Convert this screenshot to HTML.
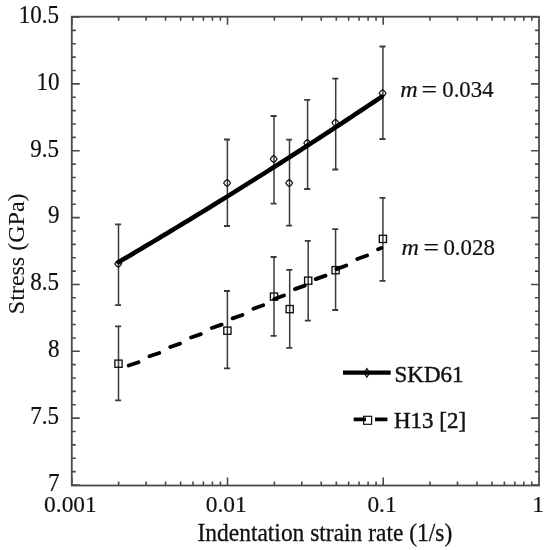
<!DOCTYPE html><html><head><meta charset="utf-8"><style>html,body{margin:0;padding:0;background:#fff;}svg{display:block;}text{font-family:"Liberation Serif","Times New Roman",serif;fill:#111;stroke:#111;}text{stroke-width:0.2px;}</style></head><body>
<svg width="547" height="550" viewBox="0 0 547 550">
<rect width="547" height="550" fill="#fff"/>
<path d="M71.80 485.5v-8M71.80 16.7v8M118.67 485.5v-4M118.67 16.7v4M146.09 485.5v-4M146.09 16.7v4M165.54 485.5v-4M165.54 16.7v4M180.63 485.5v-4M180.63 16.7v4M192.96 485.5v-4M192.96 16.7v4M203.38 485.5v-4M203.38 16.7v4M212.41 485.5v-4M212.41 16.7v4M220.38 485.5v-4M220.38 16.7v4M227.50 485.5v-8M227.50 16.7v8M274.37 485.5v-4M274.37 16.7v4M301.79 485.5v-4M301.79 16.7v4M321.24 485.5v-4M321.24 16.7v4M336.33 485.5v-4M336.33 16.7v4M348.66 485.5v-4M348.66 16.7v4M359.08 485.5v-4M359.08 16.7v4M368.11 485.5v-4M368.11 16.7v4M376.08 485.5v-4M376.08 16.7v4M383.20 485.5v-8M383.20 16.7v8M430.07 485.5v-4M430.07 16.7v4M457.49 485.5v-4M457.49 16.7v4M476.94 485.5v-4M476.94 16.7v4M492.03 485.5v-4M492.03 16.7v4M504.36 485.5v-4M504.36 16.7v4M514.78 485.5v-4M514.78 16.7v4M523.81 485.5v-4M523.81 16.7v4M531.78 485.5v-4M531.78 16.7v4M71.8 485.00h8M539 485.00h-8M71.8 471.63h4M539 471.63h-4M71.8 458.26h4M539 458.26h-4M71.8 444.89h4M539 444.89h-4M71.8 431.52h4M539 431.52h-4M71.8 418.15h8M539 418.15h-8M71.8 404.78h4M539 404.78h-4M71.8 391.41h4M539 391.41h-4M71.8 378.04h4M539 378.04h-4M71.8 364.67h4M539 364.67h-4M71.8 351.30h8M539 351.30h-8M71.8 337.93h4M539 337.93h-4M71.8 324.56h4M539 324.56h-4M71.8 311.19h4M539 311.19h-4M71.8 297.82h4M539 297.82h-4M71.8 284.45h8M539 284.45h-8M71.8 271.08h4M539 271.08h-4M71.8 257.71h4M539 257.71h-4M71.8 244.34h4M539 244.34h-4M71.8 230.97h4M539 230.97h-4M71.8 217.60h8M539 217.60h-8M71.8 204.23h4M539 204.23h-4M71.8 190.86h4M539 190.86h-4M71.8 177.49h4M539 177.49h-4M71.8 164.12h4M539 164.12h-4M71.8 150.75h8M539 150.75h-8M71.8 137.38h4M539 137.38h-4M71.8 124.01h4M539 124.01h-4M71.8 110.64h4M539 110.64h-4M71.8 97.27h4M539 97.27h-4M71.8 83.90h8M539 83.90h-8M71.8 70.53h4M539 70.53h-4M71.8 57.16h4M539 57.16h-4M71.8 43.79h4M539 43.79h-4M71.8 30.42h4M539 30.42h-4M71.8 17.05h8M539 17.05h-8" stroke="#4a4a4a" stroke-width="1.6" fill="none"/>
<rect x="71.8" y="16.7" width="467.20" height="468.80" fill="none" stroke="#4a4a4a" stroke-width="1.8"/>
<path d="M118.5 224.4V305.2M227.4 139.5V226M274 116V203.6M289.5 139.7V225.7M307.6 99.8V189M335.7 78.7V169.5M382.9 46.5V139M118.5 326.3V400.3M227.4 291V368.4M274 257V335.9M289.7 269.9V347.9M308.2 240.8V320.7M335.6 229.2V310M382.9 197.9V280.9" stroke="#3a3a3a" stroke-width="1.5" fill="none"/>
<path d="M115.10 224.4h6.0M115.10 305.2h6.0M224.00 139.5h6.0M224.00 226h6.0M270.60 116h6.0M270.60 203.6h6.0M286.10 139.7h6.0M286.10 225.7h6.0M304.20 99.8h6.0M304.20 189h6.0M332.30 78.7h6.0M332.30 169.5h6.0M379.50 46.5h6.0M379.50 139h6.0M115.10 326.3h6.0M115.10 400.3h6.0M224.00 291h6.0M224.00 368.4h6.0M270.60 257h6.0M270.60 335.9h6.0M286.30 269.9h6.0M286.30 347.9h6.0M304.80 240.8h6.0M304.80 320.7h6.0M332.20 229.2h6.0M332.20 310h6.0M379.50 197.9h6.0M379.50 280.9h6.0" stroke="#3a3a3a" stroke-width="1.8" fill="none"/>
<path d="M118.20 260.20L120.20 261.60L121.60 263.70L120.20 265.80L118.20 267.20L116.20 265.80L114.80 263.70L116.20 261.60Z" fill="none" stroke="#111" stroke-width="1.2"/>
<path d="M227.10 179.50L229.10 180.90L230.50 183.00L229.10 185.10L227.10 186.50L225.10 185.10L223.70 183.00L225.10 180.90Z" fill="none" stroke="#111" stroke-width="1.2"/>
<path d="M273.70 155.50L275.70 156.90L277.10 159.00L275.70 161.10L273.70 162.50L271.70 161.10L270.30 159.00L271.70 156.90Z" fill="none" stroke="#111" stroke-width="1.2"/>
<path d="M289.20 179.50L291.20 180.90L292.60 183.00L291.20 185.10L289.20 186.50L287.20 185.10L285.80 183.00L287.20 180.90Z" fill="none" stroke="#111" stroke-width="1.2"/>
<path d="M307.30 139.50L309.30 140.90L310.70 143.00L309.30 145.10L307.30 146.50L305.30 145.10L303.90 143.00L305.30 140.90Z" fill="none" stroke="#111" stroke-width="1.2"/>
<path d="M335.40 119.30L337.40 120.70L338.80 122.80L337.40 124.90L335.40 126.30L333.40 124.90L332.00 122.80L333.40 120.70Z" fill="none" stroke="#111" stroke-width="1.2"/>
<path d="M382.60 89.70L384.60 91.10L386.00 93.20L384.60 95.30L382.60 96.70L380.60 95.30L379.20 93.20L380.60 91.10Z" fill="none" stroke="#111" stroke-width="1.2"/>
<rect x="114.90" y="360.10" width="7.2" height="7.2" fill="none" stroke="#111" stroke-width="1.35"/>
<rect x="223.80" y="327.10" width="7.2" height="7.2" fill="none" stroke="#111" stroke-width="1.35"/>
<rect x="270.40" y="293.00" width="7.2" height="7.2" fill="none" stroke="#111" stroke-width="1.35"/>
<rect x="286.10" y="305.50" width="7.2" height="7.2" fill="none" stroke="#111" stroke-width="1.35"/>
<rect x="304.60" y="277.10" width="7.2" height="7.2" fill="none" stroke="#111" stroke-width="1.35"/>
<rect x="332.00" y="266.60" width="7.2" height="7.2" fill="none" stroke="#111" stroke-width="1.35"/>
<rect x="379.30" y="235.30" width="7.2" height="7.2" fill="none" stroke="#111" stroke-width="1.35"/>
<path d="M118.50,262.17 L122.89,259.59 L127.28,257.00 L131.66,254.41 L136.05,251.81 L140.44,249.20 L144.83,246.59 L149.22,243.98 L153.61,241.35 L158.00,238.72 L162.38,236.09 L166.77,233.45 L171.16,230.80 L175.55,228.15 L179.94,225.49 L184.32,222.83 L188.71,220.16 L193.10,217.48 L197.49,214.80 L201.88,212.11 L206.27,209.42 L210.66,206.72 L215.04,204.02 L219.43,201.30 L223.82,198.59 L228.21,195.86 L232.60,193.13 L236.99,190.40 L241.37,187.65 L245.76,184.91 L250.15,182.15 L254.54,179.39 L258.93,176.62 L263.31,173.85 L267.70,171.07 L272.09,168.29 L276.48,165.50 L280.87,162.70 L285.26,159.89 L289.64,157.08 L294.03,154.27 L298.42,151.45 L302.81,148.62 L307.20,145.78 L311.59,142.94 L315.98,140.09 L320.36,137.24 L324.75,134.38 L329.14,131.51 L333.53,128.64 L337.92,125.76 L342.31,122.87 L346.69,119.98 L351.08,117.08 L355.47,114.17 L359.86,111.26 L364.25,108.34 L368.63,105.42 L373.02,102.49 L377.41,99.55 L381.80,96.60" fill="none" stroke="#000" stroke-width="4.6" stroke-linecap="round"/>
<path d="M128.70 365.55L138.50 362.28M149.48 356.28L159.28 352.99M170.26 346.94L180.06 343.61M191.04 337.50L200.84 334.15M211.82 327.99L221.62 324.61M232.60 318.39L242.40 314.98M253.38 308.71L263.18 305.27M274.16 298.95L283.96 295.47M294.94 289.09L304.74 285.59M315.72 279.16L325.52 275.62M336.50 269.13L346.30 265.56M357.28 259.02L367.08 255.42M378.06 249.22L381.30 248.02" fill="none" stroke="#000" stroke-width="3.8" stroke-linecap="round"/>
<text transform="translate(59.00,22.70) scale(0.945,1)" font-size="24.4" text-anchor="end">10.5</text>
<text transform="translate(59.50,90.00) scale(0.945,1)" font-size="24.4" text-anchor="end">10</text>
<text transform="translate(59.00,157.20) scale(0.945,1)" font-size="24.4" text-anchor="end">9.5</text>
<text transform="translate(59.50,223.40) scale(0.945,1)" font-size="24.4" text-anchor="end">9</text>
<text transform="translate(59.00,290.20) scale(0.945,1)" font-size="24.4" text-anchor="end">8.5</text>
<text transform="translate(59.50,357.00) scale(0.945,1)" font-size="24.4" text-anchor="end">8</text>
<text transform="translate(59.00,423.80) scale(0.945,1)" font-size="24.4" text-anchor="end">7.5</text>
<text transform="translate(59.50,490.70) scale(0.945,1)" font-size="24.4" text-anchor="end">7</text>
<text transform="translate(70.40,512.30) scale(0.975,1)" font-size="24" text-anchor="middle">0.001</text>
<text transform="translate(226.25,512.30) scale(0.975,1)" font-size="24" text-anchor="middle">0.01</text>
<text transform="translate(382.00,512.30) scale(0.975,1)" font-size="24" text-anchor="middle">0.1</text>
<text transform="translate(538.00,512.30) scale(0.975,1)" font-size="24" text-anchor="middle">1</text>
<text transform="translate(197.50,540.80) scale(0.970,1)" font-size="24.2" text-anchor="start" style="stroke-width:0.3px">Indentation strain rate (1/s)</text>
<text transform="translate(23.5,253.8) rotate(-90) scale(1.0,1)" font-size="24" text-anchor="middle" style="stroke-width:0.05px">Stress (GPa)</text>
<text transform="translate(400.20,96.80) scale(1.050,1)" font-size="23" text-anchor="start" font-style="italic">m</text>
<text transform="translate(421.60,96.80) scale(1.200,1)" font-size="23" text-anchor="start">=</text>
<text transform="translate(442.30,96.80) scale(0.990,1)" font-size="23" text-anchor="start">0.034</text>
<text transform="translate(401.50,254.80) scale(1.050,1)" font-size="23" text-anchor="start" font-style="italic">m</text>
<text transform="translate(423.60,254.80) scale(1.200,1)" font-size="23" text-anchor="start">=</text>
<text transform="translate(443.40,254.80) scale(0.975,1)" font-size="23.5" text-anchor="start">0.028</text>
<path d="M366.9 368.6L369.8 372.8L366.9 377.2L364 372.8Z" fill="none" stroke="#111" stroke-width="1.2"/>
<path d="M343 372.6H390.7" stroke="#000" stroke-width="4.4"/>
<rect x="363.6" y="416.3" width="8" height="8" fill="#fff" stroke="#111" stroke-width="1.2"/>
<path d="M353.7 419.3H366M375 419.3H387.4" stroke="#000" stroke-width="3.8"/>
<text transform="translate(394.50,381.60) scale(1.000,1)" font-size="23" text-anchor="start" style="stroke-width:0.45px">SKD61</text>
<text transform="translate(394.00,428.30) scale(1.000,1)" font-size="23" text-anchor="start" style="stroke-width:0.45px">H13 [2]</text>
</svg></body></html>
